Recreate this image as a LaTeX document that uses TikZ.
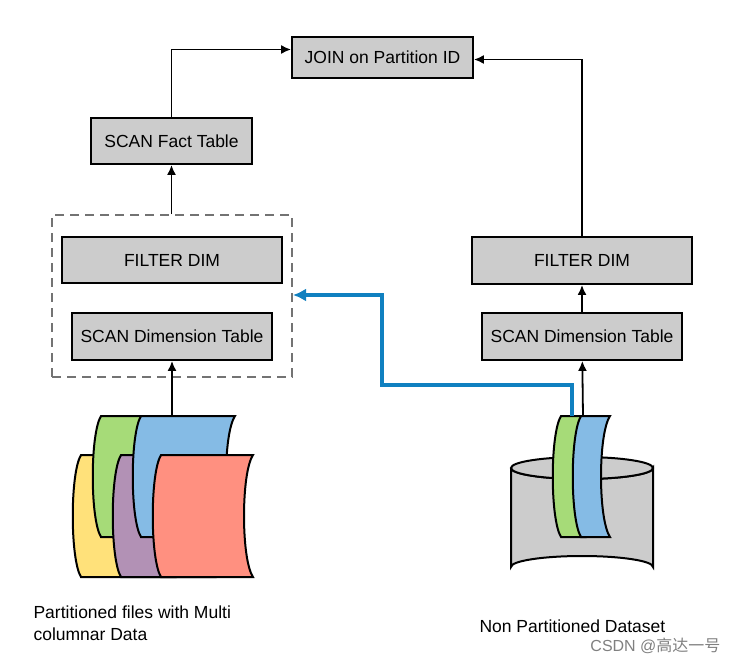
\documentclass[tikz,border=0pt]{standalone}
\usepackage{fontspec}
\setmainfont{Liberation Sans}
\newfontfamily\cjk{Noto Sans CJK SC}
\usetikzlibrary{positioning}
\usetikzlibrary{calc}
\usetikzlibrary{arrows.meta}
\definecolor{boxgray}{HTML}{CCCCCC}
\definecolor{fileyellow}{HTML}{FFE17A}
\definecolor{filegreen}{HTML}{A6DB78}
\definecolor{fileblue}{HTML}{85BBE5}
\definecolor{filepurple}{HTML}{B291B5}
\definecolor{filered}{HTML}{FF9080}
\definecolor{linkblue}{HTML}{1080C0}
\tikzset{opbox/.style={draw, line width=1.8pt, fill=boxgray, inner sep=0pt, font=\fontsize{17.5}{21}\selectfont}}
\tikzset{flow/.style={draw, line width=1.8pt, -{Latex[length=10pt,width=9pt]}}}
\newcommand{\fileshape}[5]{%
\draw[line width=2pt, fill=#5] (#1+8,#2) -- (#3,#2) .. controls (#3-12,#2+18) and (#3-12,#4-18) .. (#3,#4)
 -- (#1+8,#4) .. controls (#1-3,#4-18) and (#1-3,#2+18) .. (#1+8,#2) -- cycle;}

\begin{document}
\begin{tikzpicture}[x=1pt,y=-1pt]
\useasboundingbox (0,0) rectangle (739,664);

% operator boxes
\node[opbox, minimum width=181pt, minimum height=41pt] (join) at (382.5,57.5) {JOIN on Partition ID};
\node[opbox, minimum width=161pt, minimum height=46pt] (scanFact) at (171.5,141) {SCAN Fact Table};
\node[opbox, minimum width=220pt, minimum height=46pt] (filterL) at (172,260) {FILTER DIM};
\node[opbox, minimum width=200pt, minimum height=47pt] (scanDimL) at (172,336.5) {SCAN Dimension Table};
\node[opbox, minimum width=220pt, minimum height=47pt] (filterR) at (582,260.5) {FILTER DIM};
\node[opbox, minimum width=200pt, minimum height=47pt] (scanDimR) at (582,336.5) {SCAN Dimension Table};
\node[draw, line width=2pt, dash pattern=on 9pt off 6pt, gray!90!black, minimum width=240pt, minimum height=162pt] (group) at (172,296) {};

% partitioned files
\fileshape{73}{455}{175}{577}{fileyellow}
\fileshape{93}{416}{225}{537}{filegreen}
\fileshape{113}{455}{215}{577}{filepurple}
\fileshape{133}{416}{235}{537}{fileblue}
\fileshape{153}{455}{253}{577}{filered}
\coordinate (filesTop) at (172,416);

% non partitioned dataset
\draw[line width=2pt, fill=boxgray] (511,468) -- (511,567) arc[start angle=180, end angle=360, x radius=71, y radius=11]
 -- (653,468) arc[start angle=0, end angle=180, x radius=71, y radius=11];
\draw[line width=2pt, fill=boxgray] (582,468) ellipse[x radius=71, y radius=11];
\fileshape{553}{416}{585}{537}{filegreen}
\fileshape{573}{416}{610}{537}{fileblue}
\coordinate (dataTop) at (583,416);
\coordinate (blueStart) at (572,416);

% flows
\draw[flow] (filesTop) -- (scanDimL);
\draw[flow] (group.north -| scanFact) -- (scanFact);
\draw[flow] (scanFact.north) |- ([yshift=8pt]join.west);
\draw[flow] (dataTop) -- (scanDimR);
\draw[flow] (scanDimR) -- (filterR);
\draw[flow] (filterR.north) |- ([yshift=-2pt]join.east);
\draw[linkblue, line width=4.5pt, -{Latex[length=13pt,width=13pt]}] (blueStart) -- (572,385) -- (382,385) -- (382,295) -- (group.east |- 0,295);

% captions
\node[anchor=north west, align=left, font=\fontsize{17.5}{22}\selectfont] (capL) at (30,602) {Partitioned files with Multi\\columnar Data};
\node[anchor=north west, font=\fontsize{17.5}{20}\selectfont] (capR) at (476,616) {Non Partitioned Dataset};
\node[anchor=east, text=gray, font=\fontsize{16}{19}\selectfont] (mark) at (724,646) {CSDN @{\cjk 高达一号}};
\end{tikzpicture}
\end{document}
